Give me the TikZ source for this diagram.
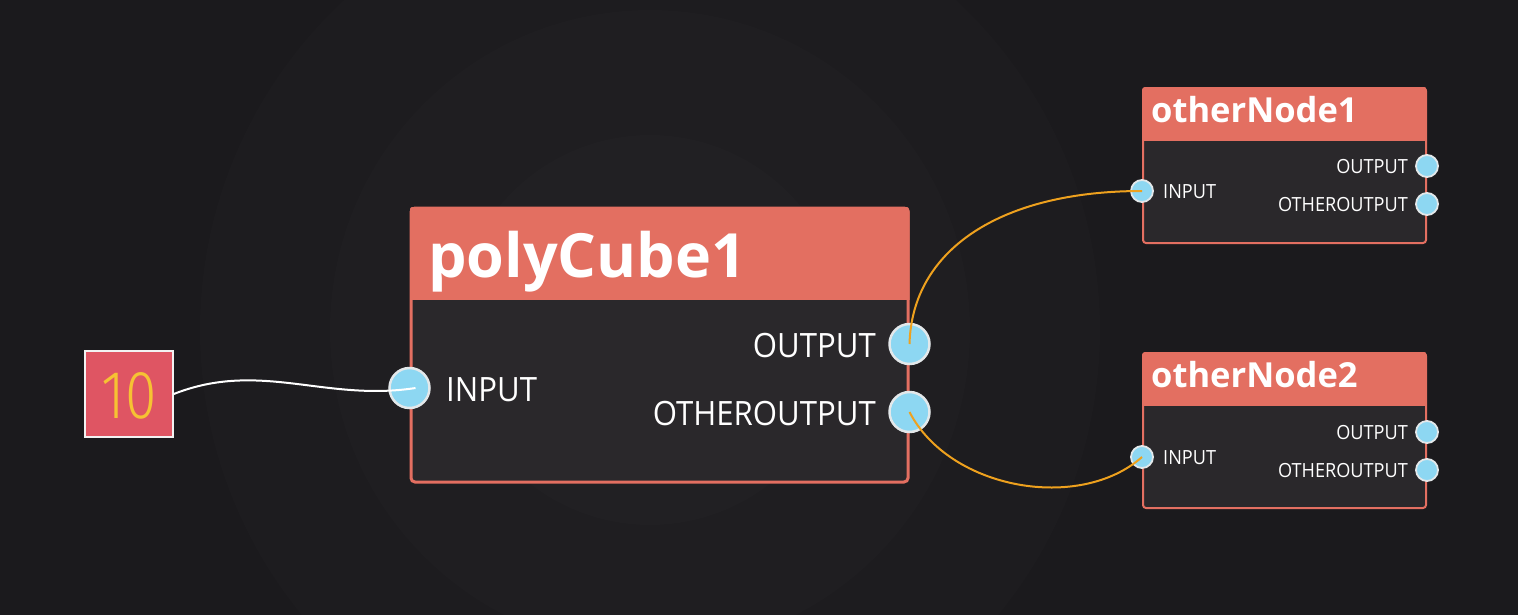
\documentclass[tikz,border=0pt]{standalone}
\usepackage{fontspec}
\setmainfont{Open Sans}
\newfontfamily\lblfont{Open Sans}[FakeStretch=0.93]
\newfontfamily\numfont{Fira Sans Light}[FakeStretch=0.84]
\definecolor{bgc}{HTML}{1B1A1D}
\definecolor{ringa}{HTML}{1D1C1F}
\definecolor{ringb}{HTML}{1F1E21}
\definecolor{ringc}{HTML}{212023}
\definecolor{hdr}{HTML}{E36F61}
\definecolor{bodyc}{HTML}{2A282B}
\definecolor{portc}{HTML}{8DD7F2}
\definecolor{portb}{HTML}{E3E8EA}
\definecolor{valc}{HTML}{DF5563}
\definecolor{numc}{HTML}{F6C233}
\definecolor{wirec}{HTML}{EEA11E}
\begin{document}
\begin{tikzpicture}[x=1pt,y=-1pt,
  nodebox/.style={draw=hdr, fill=bodyc, line width=3pt, rounded corners=4pt, inner sep=0pt},
  smallbox/.style={nodebox, line width=2pt, rounded corners=3pt},
  bigport/.style={circle, fill=portc, draw=portb, line width=2.5pt, minimum size=40pt, inner sep=0pt},
  smallport/.style={bigport, line width=1.8pt, minimum size=22pt},
  biglbl/.style={text=white, inner sep=0pt, font=\lblfont\fontsize{33.5}{33.5}\selectfont},
  smalllbl/.style={text=white, inner sep=0pt, font=\lblfont\fontsize{19.5}{19.5}\selectfont},
  bigtitle/.style={text=white, inner sep=0pt, font=\bfseries\fontsize{61}{61}\selectfont},
  smalltitle/.style={text=white, inner sep=0pt, font=\bfseries\fontsize{34.5}{34.5}\selectfont},
  valbox/.style={fill=valc, draw=white!95!black, line width=1.5pt, minimum width=88pt, minimum height=86pt, inner sep=0pt},
  wire/.style={draw=wirec, line width=2pt},
  link/.style={draw=white, line width=2pt}]
\useasboundingbox (0,0) rectangle (1518,614);
% background
\begin{scope}
  \clip (0,0) rectangle (1518,614);
  \fill[bgc] (-5,-5) rectangle (1523,619);
  \fill[ringa] (650,330) circle[radius=450];
  \fill[ringb] (650,330) circle[radius=320];
  \fill[ringc] (650,330) circle[radius=195];
\end{scope}

% value node
\node[valbox] (val) at (129,394) {};
\node[text=numc, inner sep=0pt, font=\numfont\fontsize{68}{68}\selectfont, anchor=base] (valtxt) at (129,418) {10};

% polyCube1
\node[nodebox, minimum width=497pt, minimum height=274pt] (pc) at (659.5,345) {};
\begin{scope}
  \clip[rounded corners=4pt] (pc.south west) rectangle (pc.north east);
  \fill[hdr] (pc.north west) rectangle (pc.east |- 0,300);
\end{scope}
\node[bigtitle, anchor=base west] (pct) at (428,277) {polyCube1};
\node[bigport] (pcin) at (pc.west |- 0,388) {};
\node[bigport] (pcout) at (pc.east |- 0,344) {};
\node[bigport] (pcoo) at (pc.east |- 0,412) {};
\node[biglbl, anchor=base west] (pcinl) at (446,401) {INPUT};
\node[biglbl, anchor=base east] (pcoutl) at (876,357) {OUTPUT};
\node[biglbl, anchor=base east] (pcool) at (876,425) {OTHEROUTPUT};

% otherNode1
\node[smallbox, minimum width=283pt, minimum height=155pt] (oa) at (1284.5,165.5) {};
\begin{scope}
  \clip[rounded corners=3pt] (oa.south west) rectangle (oa.north east);
  \fill[hdr] (oa.north west) rectangle (oa.east |- 0,141);
\end{scope}
\node[smalltitle, anchor=base west] (oat) at (1151,122) {otherNode1};
\node[smallport] (oain) at (oa.west |- 0,191) {};
\node[smallport] (oaout) at (oa.east |- 0,166) {};
\node[smallport] (oaoo) at (oa.east |- 0,204) {};
\node[smalllbl, anchor=base west] (oainl) at (1163,198) {INPUT};
\node[smalllbl, anchor=base east] (oaoutl) at (1408,173) {OUTPUT};
\node[smalllbl, anchor=base east] (oaool) at (1408,211) {OTHEROUTPUT};

% otherNode2
\node[smallbox, minimum width=283pt, minimum height=155pt] (ob) at (1284.5,430.5) {};
\begin{scope}
  \clip[rounded corners=3pt] (ob.south west) rectangle (ob.north east);
  \fill[hdr] (ob.north west) rectangle (ob.east |- 0,406);
\end{scope}
\node[smalltitle, anchor=base west] (obt) at (1151,387) {otherNode2};
\node[smallport] (obin) at (ob.west |- 0,457) {};
\node[smallport] (obout) at (ob.east |- 0,432) {};
\node[smallport] (oboo) at (ob.east |- 0,470) {};
\node[smalllbl, anchor=base west] (obinl) at (1163,464) {INPUT};
\node[smalllbl, anchor=base east] (oboutl) at (1408,439) {OUTPUT};
\node[smalllbl, anchor=base east] (obool) at (1408,477) {OTHEROUTPUT};

% connectors
\draw[link] (val.east) .. controls (260,360) and (325,402) .. ([xshift=6pt]pcin.center);
\draw[wire] (pcout.center) .. controls (912,250) and (1000,191) .. (oain.center);
\draw[wire] (pcoo.center) .. controls (950,490) and (1080,512) .. (obin.center);
\end{tikzpicture}
\end{document}
